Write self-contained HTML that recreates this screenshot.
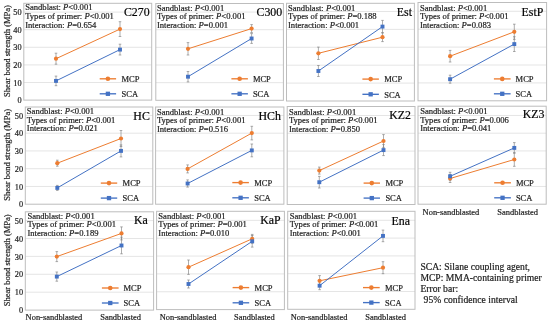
<!DOCTYPE html>
<html lang="en"><head><meta charset="utf-8"><title>Shear bond strength</title>
<style>html,body{margin:0;padding:0;background:#fff}body{width:550px;height:324px;overflow:hidden}svg{display:block}</style>
</head><body>
<svg width="550" height="324" viewBox="0 0 550 324" font-family="'Liberation Serif', serif">
<rect width="550" height="324" fill="#fff"/>
<style>text{stroke:#1c1c1c;stroke-width:0.2px;paint-order:stroke}</style>
<line x1="23.8" x2="151.7" y1="82.5" y2="82.5" stroke="#dedede" stroke-width="0.8"/>
<line x1="23.8" x2="151.7" y1="64.9" y2="64.9" stroke="#dedede" stroke-width="0.8"/>
<line x1="23.8" x2="151.7" y1="47.3" y2="47.3" stroke="#dedede" stroke-width="0.8"/>
<line x1="23.8" x2="151.7" y1="29.7" y2="29.7" stroke="#dedede" stroke-width="0.8"/>
<line x1="23.8" x2="151.7" y1="12.1" y2="12.1" stroke="#dedede" stroke-width="0.8"/>
<rect x="23.8" y="3.3" width="127.9" height="96.8" fill="none" stroke="#bdbdbd" stroke-width="1"/>
<g font-size="8.58" fill="#1c1c1c">
<text x="25.2" y="9.7">Sandblast: <tspan font-style="italic">P</tspan>&lt;0.001</text>
<text x="25.2" y="18.7">Types of primer: <tspan font-style="italic">P</tspan>&lt;0.001</text>
<text x="25.2" y="27.6">Interaction: <tspan font-style="italic">P</tspan>=0.654</text>
</g>
<text x="149.6" y="15.7" font-size="11.85" text-anchor="end" fill="#000">C270</text>
<path d="M56 53.2V64.2M54.7 53.2H57.3M54.7 64.2H57.3" stroke="#808080" stroke-width="0.65" fill="none"/>
<path d="M120 21.7V36.5M118.7 21.7H121.3M118.7 36.5H121.3" stroke="#808080" stroke-width="0.65" fill="none"/>
<path d="M56 76.1V85.7M54.7 76.1H57.3M54.7 85.7H57.3" stroke="#808080" stroke-width="0.65" fill="none"/>
<path d="M120 44.2V55M118.7 44.2H121.3M118.7 55H121.3" stroke="#808080" stroke-width="0.65" fill="none"/>
<line x1="56" y1="58.7" x2="120" y2="29.1" stroke="#ED7D31" stroke-width="1.0"/>
<line x1="56" y1="80.9" x2="120" y2="49.6" stroke="#4472C4" stroke-width="1.0"/>
<circle cx="56" cy="58.7" r="2.1" fill="#ED7D31"/>
<circle cx="120" cy="29.1" r="2.1" fill="#ED7D31"/>
<rect x="54.05" y="78.95" width="3.9" height="3.9" fill="#4472C4"/>
<rect x="118.05" y="47.65" width="3.9" height="3.9" fill="#4472C4"/>
<line x1="99.7" x2="116.1" y1="78.8" y2="78.8" stroke="#ED7D31" stroke-width="1.35"/><circle cx="107.9" cy="78.8" r="2.3" fill="#ED7D31"/>
<line x1="99.7" x2="116.1" y1="93.8" y2="93.8" stroke="#4472C4" stroke-width="1.35"/><rect x="105.75" y="91.65" width="4.3" height="4.3" fill="#4472C4"/>
<text x="121.5" y="82.1" font-size="8.5" fill="#1c1c1c">MCP</text>
<text x="121.5" y="97.1" font-size="8.5" fill="#1c1c1c">SCA</text>
<line x1="155.8" x2="283.4" y1="82.65" y2="82.65" stroke="#dedede" stroke-width="0.8"/>
<line x1="155.8" x2="283.4" y1="65" y2="65" stroke="#dedede" stroke-width="0.8"/>
<line x1="155.8" x2="283.4" y1="47.35" y2="47.35" stroke="#dedede" stroke-width="0.8"/>
<line x1="155.8" x2="283.4" y1="29.7" y2="29.7" stroke="#dedede" stroke-width="0.8"/>
<line x1="155.8" x2="283.4" y1="12.05" y2="12.05" stroke="#dedede" stroke-width="0.8"/>
<rect x="155.8" y="3.5" width="127.6" height="96.8" fill="none" stroke="#bdbdbd" stroke-width="1"/>
<g font-size="8.58" fill="#1c1c1c">
<text x="156.9" y="10.9">Sandblast: <tspan font-style="italic">P</tspan>&lt;0.001</text>
<text x="156.9" y="19.1">Types of primer: <tspan font-style="italic">P</tspan>&lt;0.001</text>
<text x="156.9" y="27.8">Interaction: <tspan font-style="italic">P</tspan>=0.001</text>
</g>
<text x="282.2" y="15.6" font-size="11.85" text-anchor="end" fill="#000">C300</text>
<path d="M188 42.6V55M186.7 42.6H189.3M186.7 55H189.3" stroke="#808080" stroke-width="0.65" fill="none"/>
<path d="M251.6 24.6V32.6M250.3 24.6H252.9M250.3 32.6H252.9" stroke="#808080" stroke-width="0.65" fill="none"/>
<path d="M188 71.5V81.9M186.7 71.5H189.3M186.7 81.9H189.3" stroke="#808080" stroke-width="0.65" fill="none"/>
<path d="M251.6 33.6V43.4M250.3 33.6H252.9M250.3 43.4H252.9" stroke="#808080" stroke-width="0.65" fill="none"/>
<line x1="188" y1="48.8" x2="251.6" y2="28.6" stroke="#ED7D31" stroke-width="1.0"/>
<line x1="188" y1="76.7" x2="251.6" y2="38.5" stroke="#4472C4" stroke-width="1.0"/>
<circle cx="188" cy="48.8" r="2.1" fill="#ED7D31"/>
<circle cx="251.6" cy="28.6" r="2.1" fill="#ED7D31"/>
<rect x="186.05" y="74.75" width="3.9" height="3.9" fill="#4472C4"/>
<rect x="249.65" y="36.55" width="3.9" height="3.9" fill="#4472C4"/>
<line x1="231.4" x2="247.9" y1="78.8" y2="78.8" stroke="#ED7D31" stroke-width="1.35"/><circle cx="239.65" cy="78.8" r="2.3" fill="#ED7D31"/>
<line x1="231.4" x2="247.9" y1="93.8" y2="93.8" stroke="#4472C4" stroke-width="1.35"/><rect x="237.5" y="91.65" width="4.3" height="4.3" fill="#4472C4"/>
<text x="252.9" y="82.1" font-size="8.5" fill="#1c1c1c">MCP</text>
<text x="252.9" y="97.1" font-size="8.5" fill="#1c1c1c">SCA</text>
<line x1="286.5" x2="414.4" y1="83.1" y2="83.1" stroke="#dedede" stroke-width="0.8"/>
<line x1="286.5" x2="414.4" y1="65.2" y2="65.2" stroke="#dedede" stroke-width="0.8"/>
<line x1="286.5" x2="414.4" y1="47.3" y2="47.3" stroke="#dedede" stroke-width="0.8"/>
<line x1="286.5" x2="414.4" y1="29.4" y2="29.4" stroke="#dedede" stroke-width="0.8"/>
<line x1="286.5" x2="414.4" y1="11.5" y2="11.5" stroke="#dedede" stroke-width="0.8"/>
<rect x="286.5" y="3.3" width="127.9" height="97.7" fill="none" stroke="#bdbdbd" stroke-width="1"/>
<g font-size="8.58" fill="#1c1c1c">
<text x="288" y="10.6">Sandblast: <tspan font-style="italic">P</tspan>&lt;0.001</text>
<text x="288" y="18.9">Types of primer: <tspan font-style="italic">P</tspan>=0.188</text>
<text x="288" y="27.6">Interaction: <tspan font-style="italic">P</tspan>&lt;0.001</text>
</g>
<text x="412" y="16" font-size="11.85" text-anchor="end" fill="#000">Est</text>
<path d="M318.4 47.1V59.5M317.1 47.1H319.7M317.1 59.5H319.7" stroke="#808080" stroke-width="0.65" fill="none"/>
<path d="M382.5 32.8V41.6M381.2 32.8H383.8M381.2 41.6H383.8" stroke="#808080" stroke-width="0.65" fill="none"/>
<path d="M318.4 65.5V76.5M317.1 65.5H319.7M317.1 76.5H319.7" stroke="#808080" stroke-width="0.65" fill="none"/>
<path d="M382.5 20.4V32.8M381.2 20.4H383.8M381.2 32.8H383.8" stroke="#808080" stroke-width="0.65" fill="none"/>
<line x1="318.4" y1="53.3" x2="382.5" y2="37.2" stroke="#ED7D31" stroke-width="1.0"/>
<line x1="318.4" y1="71" x2="382.5" y2="26.6" stroke="#4472C4" stroke-width="1.0"/>
<circle cx="318.4" cy="53.3" r="2.1" fill="#ED7D31"/>
<circle cx="382.5" cy="37.2" r="2.1" fill="#ED7D31"/>
<rect x="316.45" y="69.05" width="3.9" height="3.9" fill="#4472C4"/>
<rect x="380.55" y="24.65" width="3.9" height="3.9" fill="#4472C4"/>
<line x1="362.4" x2="378.9" y1="79.1" y2="79.1" stroke="#ED7D31" stroke-width="1.35"/><circle cx="370.65" cy="79.1" r="2.3" fill="#ED7D31"/>
<line x1="362.4" x2="378.9" y1="94.3" y2="94.3" stroke="#4472C4" stroke-width="1.35"/><rect x="368.5" y="92.15" width="4.3" height="4.3" fill="#4472C4"/>
<text x="384.2" y="82.4" font-size="8.5" fill="#1c1c1c">MCP</text>
<text x="384.2" y="97.6" font-size="8.5" fill="#1c1c1c">SCA</text>
<line x1="418" x2="546.6" y1="82.9" y2="82.9" stroke="#dedede" stroke-width="0.8"/>
<line x1="418" x2="546.6" y1="65" y2="65" stroke="#dedede" stroke-width="0.8"/>
<line x1="418" x2="546.6" y1="47.1" y2="47.1" stroke="#dedede" stroke-width="0.8"/>
<line x1="418" x2="546.6" y1="29.2" y2="29.2" stroke="#dedede" stroke-width="0.8"/>
<line x1="418" x2="546.6" y1="11.3" y2="11.3" stroke="#dedede" stroke-width="0.8"/>
<rect x="418" y="2.5" width="128.6" height="98.3" fill="none" stroke="#bdbdbd" stroke-width="1"/>
<g font-size="8.58" fill="#1c1c1c">
<text x="419.9" y="10.6">Sandblast: <tspan font-style="italic">P</tspan>&lt;0.001</text>
<text x="419.9" y="18.9">Types of primer: <tspan font-style="italic">P</tspan>&lt;0.001</text>
<text x="419.9" y="27.6">Interaction: <tspan font-style="italic">P</tspan>=0.083</text>
</g>
<text x="543.3" y="15.6" font-size="11.85" text-anchor="end" fill="#000">EstP</text>
<path d="M450.1 50.4V62M448.8 50.4H451.4M448.8 62H451.4" stroke="#808080" stroke-width="0.65" fill="none"/>
<path d="M514.3 24.2V39.4M513 24.2H515.6M513 39.4H515.6" stroke="#808080" stroke-width="0.65" fill="none"/>
<path d="M450.1 75.2V83.2M448.8 75.2H451.4M448.8 83.2H451.4" stroke="#808080" stroke-width="0.65" fill="none"/>
<path d="M514.3 36.7V51.5M513 36.7H515.6M513 51.5H515.6" stroke="#808080" stroke-width="0.65" fill="none"/>
<line x1="450.1" y1="56.2" x2="514.3" y2="31.8" stroke="#ED7D31" stroke-width="1.0"/>
<line x1="450.1" y1="79.2" x2="514.3" y2="44.1" stroke="#4472C4" stroke-width="1.0"/>
<circle cx="450.1" cy="56.2" r="2.1" fill="#ED7D31"/>
<circle cx="514.3" cy="31.8" r="2.1" fill="#ED7D31"/>
<rect x="448.15" y="77.25" width="3.9" height="3.9" fill="#4472C4"/>
<rect x="512.35" y="42.15" width="3.9" height="3.9" fill="#4472C4"/>
<line x1="493.9" x2="510.6" y1="78.9" y2="78.9" stroke="#ED7D31" stroke-width="1.35"/><circle cx="502.25" cy="78.9" r="2.3" fill="#ED7D31"/>
<line x1="493.9" x2="510.6" y1="93.8" y2="93.8" stroke="#4472C4" stroke-width="1.35"/><rect x="500.1" y="91.65" width="4.3" height="4.3" fill="#4472C4"/>
<text x="515.6" y="82.2" font-size="8.5" fill="#1c1c1c">MCP</text>
<text x="515.6" y="97.1" font-size="8.5" fill="#1c1c1c">SCA</text>
<line x1="25.3" x2="152.8" y1="186.45" y2="186.45" stroke="#dedede" stroke-width="0.8"/>
<line x1="25.3" x2="152.8" y1="168.7" y2="168.7" stroke="#dedede" stroke-width="0.8"/>
<line x1="25.3" x2="152.8" y1="150.95" y2="150.95" stroke="#dedede" stroke-width="0.8"/>
<line x1="25.3" x2="152.8" y1="133.2" y2="133.2" stroke="#dedede" stroke-width="0.8"/>
<line x1="25.3" x2="152.8" y1="115.45" y2="115.45" stroke="#dedede" stroke-width="0.8"/>
<rect x="25.3" y="107" width="127.5" height="97.2" fill="none" stroke="#bdbdbd" stroke-width="1"/>
<g font-size="8.58" fill="#1c1c1c">
<text x="26.8" y="114.2">Sandblast: <tspan font-style="italic">P</tspan>&lt;0.001</text>
<text x="26.8" y="122.7">Types of primer: <tspan font-style="italic">P</tspan>&lt;0.001</text>
<text x="26.8" y="131.2">Interaction: <tspan font-style="italic">P</tspan>=0.021</text>
</g>
<text x="149.8" y="119.8" font-size="11.85" text-anchor="end" fill="#000">HC</text>
<path d="M57.3 160.2V166.2M56 160.2H58.6M56 166.2H58.6" stroke="#808080" stroke-width="0.65" fill="none"/>
<path d="M121 130.5V146.5M119.7 130.5H122.3M119.7 146.5H122.3" stroke="#808080" stroke-width="0.65" fill="none"/>
<path d="M57.3 185.4V190.4M56 185.4H58.6M56 190.4H58.6" stroke="#808080" stroke-width="0.65" fill="none"/>
<path d="M121 144.9V156.9M119.7 144.9H122.3M119.7 156.9H122.3" stroke="#808080" stroke-width="0.65" fill="none"/>
<line x1="57.3" y1="163.2" x2="121" y2="138.5" stroke="#ED7D31" stroke-width="1.0"/>
<line x1="57.3" y1="187.9" x2="121" y2="150.9" stroke="#4472C4" stroke-width="1.0"/>
<circle cx="57.3" cy="163.2" r="2.1" fill="#ED7D31"/>
<circle cx="121" cy="138.5" r="2.1" fill="#ED7D31"/>
<rect x="55.35" y="185.95" width="3.9" height="3.9" fill="#4472C4"/>
<rect x="119.05" y="148.95" width="3.9" height="3.9" fill="#4472C4"/>
<line x1="100.8" x2="117.2" y1="183.1" y2="183.1" stroke="#ED7D31" stroke-width="1.35"/><circle cx="109" cy="183.1" r="2.3" fill="#ED7D31"/>
<line x1="100.8" x2="117.2" y1="198.1" y2="198.1" stroke="#4472C4" stroke-width="1.35"/><rect x="106.85" y="195.95" width="4.3" height="4.3" fill="#4472C4"/>
<text x="122.6" y="186.4" font-size="8.5" fill="#1c1c1c">MCP</text>
<text x="122.6" y="201.4" font-size="8.5" fill="#1c1c1c">SCA</text>
<line x1="155.6" x2="283.9" y1="186.45" y2="186.45" stroke="#dedede" stroke-width="0.8"/>
<line x1="155.6" x2="283.9" y1="168.7" y2="168.7" stroke="#dedede" stroke-width="0.8"/>
<line x1="155.6" x2="283.9" y1="150.95" y2="150.95" stroke="#dedede" stroke-width="0.8"/>
<line x1="155.6" x2="283.9" y1="133.2" y2="133.2" stroke="#dedede" stroke-width="0.8"/>
<line x1="155.6" x2="283.9" y1="115.45" y2="115.45" stroke="#dedede" stroke-width="0.8"/>
<rect x="155.6" y="107" width="128.3" height="97.2" fill="none" stroke="#bdbdbd" stroke-width="1"/>
<g font-size="8.58" fill="#1c1c1c">
<text x="156.9" y="114.6">Sandblast: <tspan font-style="italic">P</tspan>&lt;0.001</text>
<text x="156.9" y="122.9">Types of primer: <tspan font-style="italic">P</tspan>&lt;0.001</text>
<text x="156.9" y="131.6">Interaction: <tspan font-style="italic">P</tspan>=0.516</text>
</g>
<text x="280.9" y="119.8" font-size="11.85" text-anchor="end" fill="#000">HCh</text>
<path d="M187.6 164.9V172.9M186.3 164.9H188.9M186.3 172.9H188.9" stroke="#808080" stroke-width="0.65" fill="none"/>
<path d="M251.8 126.3V139.9M250.5 126.3H253.1M250.5 139.9H253.1" stroke="#808080" stroke-width="0.65" fill="none"/>
<path d="M187.6 179.9V187.1M186.3 179.9H188.9M186.3 187.1H188.9" stroke="#808080" stroke-width="0.65" fill="none"/>
<path d="M251.8 144V156.8M250.5 144H253.1M250.5 156.8H253.1" stroke="#808080" stroke-width="0.65" fill="none"/>
<line x1="187.6" y1="168.9" x2="251.8" y2="133.1" stroke="#ED7D31" stroke-width="1.0"/>
<line x1="187.6" y1="183.5" x2="251.8" y2="150.4" stroke="#4472C4" stroke-width="1.0"/>
<circle cx="187.6" cy="168.9" r="2.1" fill="#ED7D31"/>
<circle cx="251.8" cy="133.1" r="2.1" fill="#ED7D31"/>
<rect x="185.65" y="181.55" width="3.9" height="3.9" fill="#4472C4"/>
<rect x="249.85" y="148.45" width="3.9" height="3.9" fill="#4472C4"/>
<line x1="232.3" x2="248.9" y1="182.6" y2="182.6" stroke="#ED7D31" stroke-width="1.35"/><circle cx="240.6" cy="182.6" r="2.3" fill="#ED7D31"/>
<line x1="232.3" x2="248.9" y1="197.8" y2="197.8" stroke="#4472C4" stroke-width="1.35"/><rect x="238.45" y="195.65" width="4.3" height="4.3" fill="#4472C4"/>
<text x="254.2" y="185.9" font-size="8.5" fill="#1c1c1c">MCP</text>
<text x="254.2" y="201.1" font-size="8.5" fill="#1c1c1c">SCA</text>
<line x1="287.2" x2="415" y1="186.7" y2="186.7" stroke="#dedede" stroke-width="0.8"/>
<line x1="287.2" x2="415" y1="168.9" y2="168.9" stroke="#dedede" stroke-width="0.8"/>
<line x1="287.2" x2="415" y1="151.1" y2="151.1" stroke="#dedede" stroke-width="0.8"/>
<line x1="287.2" x2="415" y1="133.3" y2="133.3" stroke="#dedede" stroke-width="0.8"/>
<line x1="287.2" x2="415" y1="115.5" y2="115.5" stroke="#dedede" stroke-width="0.8"/>
<rect x="287.2" y="106.5" width="127.8" height="98" fill="none" stroke="#bdbdbd" stroke-width="1"/>
<g font-size="8.58" fill="#1c1c1c">
<text x="288.9" y="114.6">Sandblast: <tspan font-style="italic">P</tspan>&lt;0.001</text>
<text x="288.9" y="122.9">Types of primer: <tspan font-style="italic">P</tspan>&lt;0.001</text>
<text x="288.9" y="131.6">Interaction: <tspan font-style="italic">P</tspan>=0.850</text>
</g>
<text x="410.9" y="118.9" font-size="11.85" text-anchor="end" fill="#000">KZ2</text>
<path d="M319.3 167.1V174.1M318 167.1H320.6M318 174.1H320.6" stroke="#808080" stroke-width="0.65" fill="none"/>
<path d="M383.5 134.6V147.4M382.2 134.6H384.8M382.2 147.4H384.8" stroke="#808080" stroke-width="0.65" fill="none"/>
<path d="M319.3 176.4V188M318 176.4H320.6M318 188H320.6" stroke="#808080" stroke-width="0.65" fill="none"/>
<path d="M383.5 144.6V155.6M382.2 144.6H384.8M382.2 155.6H384.8" stroke="#808080" stroke-width="0.65" fill="none"/>
<line x1="319.3" y1="170.6" x2="383.5" y2="141" stroke="#ED7D31" stroke-width="1.0"/>
<line x1="319.3" y1="182.2" x2="383.5" y2="150.1" stroke="#4472C4" stroke-width="1.0"/>
<circle cx="319.3" cy="170.6" r="2.1" fill="#ED7D31"/>
<circle cx="383.5" cy="141" r="2.1" fill="#ED7D31"/>
<rect x="317.35" y="180.25" width="3.9" height="3.9" fill="#4472C4"/>
<rect x="381.55" y="148.15" width="3.9" height="3.9" fill="#4472C4"/>
<line x1="363.6" x2="380" y1="183.1" y2="183.1" stroke="#ED7D31" stroke-width="1.35"/><circle cx="371.8" cy="183.1" r="2.3" fill="#ED7D31"/>
<line x1="363.6" x2="380" y1="198.1" y2="198.1" stroke="#4472C4" stroke-width="1.35"/><rect x="369.65" y="195.95" width="4.3" height="4.3" fill="#4472C4"/>
<text x="385.4" y="186.4" font-size="8.5" fill="#1c1c1c">MCP</text>
<text x="385.4" y="201.4" font-size="8.5" fill="#1c1c1c">SCA</text>
<line x1="418" x2="546.2" y1="186.45" y2="186.45" stroke="#dedede" stroke-width="0.8"/>
<line x1="418" x2="546.2" y1="168.7" y2="168.7" stroke="#dedede" stroke-width="0.8"/>
<line x1="418" x2="546.2" y1="150.95" y2="150.95" stroke="#dedede" stroke-width="0.8"/>
<line x1="418" x2="546.2" y1="133.2" y2="133.2" stroke="#dedede" stroke-width="0.8"/>
<line x1="418" x2="546.2" y1="115.45" y2="115.45" stroke="#dedede" stroke-width="0.8"/>
<rect x="418" y="106.2" width="128.2" height="98" fill="none" stroke="#bdbdbd" stroke-width="1"/>
<g font-size="8.58" fill="#1c1c1c">
<text x="420.2" y="114.2">Sandblast: <tspan font-style="italic">P</tspan>&lt;0.001</text>
<text x="420.2" y="122.7">Types of primer: <tspan font-style="italic">P</tspan>=0.006</text>
<text x="420.2" y="131.2">Interaction: <tspan font-style="italic">P</tspan>=0.041</text>
</g>
<text x="544.4" y="118.4" font-size="11.85" text-anchor="end" fill="#000">KZ3</text>
<path d="M450.1 174.5V182.5M448.8 174.5H451.4M448.8 182.5H451.4" stroke="#808080" stroke-width="0.65" fill="none"/>
<path d="M514.3 152.7V166.3M513 152.7H515.6M513 166.3H515.6" stroke="#808080" stroke-width="0.65" fill="none"/>
<path d="M450.1 172.3V180.3M448.8 172.3H451.4M448.8 180.3H451.4" stroke="#808080" stroke-width="0.65" fill="none"/>
<path d="M514.3 142.6V153.2M513 142.6H515.6M513 153.2H515.6" stroke="#808080" stroke-width="0.65" fill="none"/>
<line x1="450.1" y1="178.5" x2="514.3" y2="159.5" stroke="#ED7D31" stroke-width="1.0"/>
<line x1="450.1" y1="176.3" x2="514.3" y2="147.9" stroke="#4472C4" stroke-width="1.0"/>
<circle cx="450.1" cy="178.5" r="2.1" fill="#ED7D31"/>
<circle cx="514.3" cy="159.5" r="2.1" fill="#ED7D31"/>
<rect x="448.15" y="174.35" width="3.9" height="3.9" fill="#4472C4"/>
<rect x="512.35" y="145.95" width="3.9" height="3.9" fill="#4472C4"/>
<line x1="494.2" x2="510.9" y1="182.8" y2="182.8" stroke="#ED7D31" stroke-width="1.35"/><circle cx="502.55" cy="182.8" r="2.3" fill="#ED7D31"/>
<line x1="494.2" x2="510.9" y1="197.8" y2="197.8" stroke="#4472C4" stroke-width="1.35"/><rect x="500.4" y="195.65" width="4.3" height="4.3" fill="#4472C4"/>
<text x="515.9" y="186.1" font-size="8.5" fill="#1c1c1c">MCP</text>
<text x="515.9" y="201.1" font-size="8.5" fill="#1c1c1c">SCA</text>
<line x1="25.3" x2="153.6" y1="292.2" y2="292.2" stroke="#dedede" stroke-width="0.8"/>
<line x1="25.3" x2="153.6" y1="274.3" y2="274.3" stroke="#dedede" stroke-width="0.8"/>
<line x1="25.3" x2="153.6" y1="256.4" y2="256.4" stroke="#dedede" stroke-width="0.8"/>
<line x1="25.3" x2="153.6" y1="238.5" y2="238.5" stroke="#dedede" stroke-width="0.8"/>
<line x1="25.3" x2="153.6" y1="220.6" y2="220.6" stroke="#dedede" stroke-width="0.8"/>
<rect x="25.3" y="211.8" width="128.3" height="98.3" fill="none" stroke="#bdbdbd" stroke-width="1"/>
<g font-size="8.58" fill="#1c1c1c">
<text x="27.4" y="219.1">Sandblast: <tspan font-style="italic">P</tspan>&lt;0.001</text>
<text x="27.4" y="227.4">Types of primer: <tspan font-style="italic">P</tspan>&lt;0.001</text>
<text x="27.4" y="235.8">Interaction: <tspan font-style="italic">P</tspan>=0.189</text>
</g>
<text x="147.8" y="223.9" font-size="11.85" text-anchor="end" fill="#000">Ka</text>
<path d="M56.8 251.6V261.6M55.5 251.6H58.1M55.5 261.6H58.1" stroke="#808080" stroke-width="0.65" fill="none"/>
<path d="M121.5 226.9V239.9M120.2 226.9H122.8M120.2 239.9H122.8" stroke="#808080" stroke-width="0.65" fill="none"/>
<path d="M56.8 272V281.2M55.5 272H58.1M55.5 281.2H58.1" stroke="#808080" stroke-width="0.65" fill="none"/>
<path d="M121.5 237.2V253.8M120.2 237.2H122.8M120.2 253.8H122.8" stroke="#808080" stroke-width="0.65" fill="none"/>
<line x1="56.8" y1="256.6" x2="121.5" y2="233.4" stroke="#ED7D31" stroke-width="1.0"/>
<line x1="56.8" y1="276.6" x2="121.5" y2="245.5" stroke="#4472C4" stroke-width="1.0"/>
<circle cx="56.8" cy="256.6" r="2.1" fill="#ED7D31"/>
<circle cx="121.5" cy="233.4" r="2.1" fill="#ED7D31"/>
<rect x="54.85" y="274.65" width="3.9" height="3.9" fill="#4472C4"/>
<rect x="119.55" y="243.55" width="3.9" height="3.9" fill="#4472C4"/>
<line x1="101.9" x2="118.6" y1="288" y2="288" stroke="#ED7D31" stroke-width="1.35"/><circle cx="110.25" cy="288" r="2.3" fill="#ED7D31"/>
<line x1="101.9" x2="118.6" y1="303" y2="303" stroke="#4472C4" stroke-width="1.35"/><rect x="108.1" y="300.85" width="4.3" height="4.3" fill="#4472C4"/>
<text x="123.5" y="291.3" font-size="8.5" fill="#1c1c1c">MCP</text>
<text x="123.5" y="306.3" font-size="8.5" fill="#1c1c1c">SCA</text>
<line x1="156.6" x2="284.4" y1="291.75" y2="291.75" stroke="#dedede" stroke-width="0.8"/>
<line x1="156.6" x2="284.4" y1="273.9" y2="273.9" stroke="#dedede" stroke-width="0.8"/>
<line x1="156.6" x2="284.4" y1="256.05" y2="256.05" stroke="#dedede" stroke-width="0.8"/>
<line x1="156.6" x2="284.4" y1="238.2" y2="238.2" stroke="#dedede" stroke-width="0.8"/>
<line x1="156.6" x2="284.4" y1="220.35" y2="220.35" stroke="#dedede" stroke-width="0.8"/>
<rect x="156.6" y="211.3" width="127.8" height="98.3" fill="none" stroke="#bdbdbd" stroke-width="1"/>
<g font-size="8.58" fill="#1c1c1c">
<text x="158.3" y="218.6">Sandblast: <tspan font-style="italic">P</tspan>&lt;0.001</text>
<text x="158.3" y="226.9">Types of primer: <tspan font-style="italic">P</tspan>=0.001</text>
<text x="158.3" y="235.6">Interaction: <tspan font-style="italic">P</tspan>=0.010</text>
</g>
<text x="280.6" y="223.8" font-size="11.85" text-anchor="end" fill="#000">KaP</text>
<path d="M188.5 260V274.4M187.2 260H189.8M187.2 274.4H189.8" stroke="#808080" stroke-width="0.65" fill="none"/>
<path d="M252.2 234.4V243.2M250.9 234.4H253.5M250.9 243.2H253.5" stroke="#808080" stroke-width="0.65" fill="none"/>
<path d="M188.5 280V288M187.2 280H189.8M187.2 288H189.8" stroke="#808080" stroke-width="0.65" fill="none"/>
<path d="M252.2 235.5V247.1M250.9 235.5H253.5M250.9 247.1H253.5" stroke="#808080" stroke-width="0.65" fill="none"/>
<line x1="188.5" y1="267.2" x2="252.2" y2="238.8" stroke="#ED7D31" stroke-width="1.0"/>
<line x1="188.5" y1="284" x2="252.2" y2="241.3" stroke="#4472C4" stroke-width="1.0"/>
<circle cx="188.5" cy="267.2" r="2.1" fill="#ED7D31"/>
<circle cx="252.2" cy="238.8" r="2.1" fill="#ED7D31"/>
<rect x="186.55" y="282.05" width="3.9" height="3.9" fill="#4472C4"/>
<rect x="250.25" y="239.35" width="3.9" height="3.9" fill="#4472C4"/>
<line x1="232.6" x2="249.2" y1="287.6" y2="287.6" stroke="#ED7D31" stroke-width="1.35"/><circle cx="240.9" cy="287.6" r="2.3" fill="#ED7D31"/>
<line x1="232.6" x2="249.2" y1="302.8" y2="302.8" stroke="#4472C4" stroke-width="1.35"/><rect x="238.75" y="300.65" width="4.3" height="4.3" fill="#4472C4"/>
<text x="254.6" y="290.9" font-size="8.5" fill="#1c1c1c">MCP</text>
<text x="254.6" y="306.1" font-size="8.5" fill="#1c1c1c">SCA</text>
<line x1="287.7" x2="415" y1="291.5" y2="291.5" stroke="#dedede" stroke-width="0.8"/>
<line x1="287.7" x2="415" y1="273.7" y2="273.7" stroke="#dedede" stroke-width="0.8"/>
<line x1="287.7" x2="415" y1="255.9" y2="255.9" stroke="#dedede" stroke-width="0.8"/>
<line x1="287.7" x2="415" y1="238.1" y2="238.1" stroke="#dedede" stroke-width="0.8"/>
<line x1="287.7" x2="415" y1="220.3" y2="220.3" stroke="#dedede" stroke-width="0.8"/>
<rect x="287.7" y="211.3" width="127.3" height="98" fill="none" stroke="#bdbdbd" stroke-width="1"/>
<g font-size="8.58" fill="#1c1c1c">
<text x="289.7" y="218.9">Sandblast: <tspan font-style="italic">P</tspan>&lt;0.001</text>
<text x="289.7" y="227.1">Types of primer: <tspan font-style="italic">P</tspan>&lt;0.001</text>
<text x="289.7" y="235.8">Interaction: <tspan font-style="italic">P</tspan>&lt;0.001</text>
</g>
<text x="410" y="224.5" font-size="11.85" text-anchor="end" fill="#000">Ena</text>
<path d="M319.6 275.6V286M318.3 275.6H320.9M318.3 286H320.9" stroke="#808080" stroke-width="0.65" fill="none"/>
<path d="M383 261.7V273.7M381.7 261.7H384.3M381.7 273.7H384.3" stroke="#808080" stroke-width="0.65" fill="none"/>
<path d="M319.6 281.7V289.7M318.3 281.7H320.9M318.3 289.7H320.9" stroke="#808080" stroke-width="0.65" fill="none"/>
<path d="M383 230.1V241.7M381.7 230.1H384.3M381.7 241.7H384.3" stroke="#808080" stroke-width="0.65" fill="none"/>
<line x1="319.6" y1="280.8" x2="383" y2="267.7" stroke="#ED7D31" stroke-width="1.0"/>
<line x1="319.6" y1="285.7" x2="383" y2="235.9" stroke="#4472C4" stroke-width="1.0"/>
<circle cx="319.6" cy="280.8" r="2.1" fill="#ED7D31"/>
<circle cx="383" cy="267.7" r="2.1" fill="#ED7D31"/>
<rect x="317.65" y="283.75" width="3.9" height="3.9" fill="#4472C4"/>
<rect x="381.05" y="233.95" width="3.9" height="3.9" fill="#4472C4"/>
<line x1="363" x2="379.7" y1="287.6" y2="287.6" stroke="#ED7D31" stroke-width="1.35"/><circle cx="371.35" cy="287.6" r="2.3" fill="#ED7D31"/>
<line x1="363" x2="379.7" y1="302.6" y2="302.6" stroke="#4472C4" stroke-width="1.35"/><rect x="369.2" y="300.45" width="4.3" height="4.3" fill="#4472C4"/>
<text x="385" y="290.9" font-size="8.5" fill="#1c1c1c">MCP</text>
<text x="385" y="305.9" font-size="8.5" fill="#1c1c1c">SCA</text>
<text x="21.6" y="103.2" font-size="8.3" text-anchor="end" fill="#1c1c1c">0</text>
<text x="21.6" y="85.6" font-size="8.3" text-anchor="end" fill="#1c1c1c">10</text>
<text x="21.6" y="68" font-size="8.3" text-anchor="end" fill="#1c1c1c">20</text>
<text x="21.6" y="50.4" font-size="8.3" text-anchor="end" fill="#1c1c1c">30</text>
<text x="21.6" y="32.8" font-size="8.3" text-anchor="end" fill="#1c1c1c">40</text>
<text x="21.6" y="15.2" font-size="8.3" text-anchor="end" fill="#1c1c1c">50</text>
<text transform="translate(9.5 51) rotate(-90)" font-size="8.5" text-anchor="middle" fill="#1c1c1c">Shear bond strength (MPa)</text>
<text x="23.1" y="207.3" font-size="8.3" text-anchor="end" fill="#1c1c1c">0</text>
<text x="23.1" y="189.55" font-size="8.3" text-anchor="end" fill="#1c1c1c">10</text>
<text x="23.1" y="171.8" font-size="8.3" text-anchor="end" fill="#1c1c1c">20</text>
<text x="23.1" y="154.05" font-size="8.3" text-anchor="end" fill="#1c1c1c">30</text>
<text x="23.1" y="136.3" font-size="8.3" text-anchor="end" fill="#1c1c1c">40</text>
<text x="23.1" y="118.55" font-size="8.3" text-anchor="end" fill="#1c1c1c">50</text>
<text transform="translate(9.5 154.9) rotate(-90)" font-size="8.5" text-anchor="middle" fill="#1c1c1c">Shear bond strength (MPa)</text>
<text x="23.1" y="313.2" font-size="8.3" text-anchor="end" fill="#1c1c1c">0</text>
<text x="23.1" y="295.3" font-size="8.3" text-anchor="end" fill="#1c1c1c">10</text>
<text x="23.1" y="277.4" font-size="8.3" text-anchor="end" fill="#1c1c1c">20</text>
<text x="23.1" y="259.5" font-size="8.3" text-anchor="end" fill="#1c1c1c">30</text>
<text x="23.1" y="241.6" font-size="8.3" text-anchor="end" fill="#1c1c1c">40</text>
<text x="23.1" y="223.7" font-size="8.3" text-anchor="end" fill="#1c1c1c">50</text>
<text transform="translate(9.5 260.25) rotate(-90)" font-size="8.5" text-anchor="middle" fill="#1c1c1c">Shear bond strength (MPa)</text>
<text x="25.6" y="319.8" font-size="8.45" fill="#1c1c1c">Non-sandblasted</text>
<text x="100.2" y="319.8" font-size="8.45" fill="#1c1c1c">Sandblasted</text>
<text x="159.7" y="319.8" font-size="8.45" fill="#1c1c1c">Non-sandblasted</text>
<text x="234" y="319.8" font-size="8.45" fill="#1c1c1c">Sandblasted</text>
<text x="290.7" y="319.8" font-size="8.45" fill="#1c1c1c">Non-sandblasted</text>
<text x="365.2" y="319.8" font-size="8.45" fill="#1c1c1c">Sandblasted</text>
<text x="422.6" y="215" font-size="8.45" fill="#1c1c1c">Non-sandblasted</text>
<text x="497.3" y="215" font-size="8.45" fill="#1c1c1c">Sandblasted</text>
<g font-size="9.65" fill="#1a1a1a">
<text x="420.4" y="270.2">SCA: Silane coupling agent,</text>
<text x="420.4" y="281.3">MCP: MMA-containing primer</text>
<text x="420.4" y="292.3">Error bar:</text>
<text x="423.6" y="303.4">95% confidence interval</text>
</g>
</svg>
</body></html>
